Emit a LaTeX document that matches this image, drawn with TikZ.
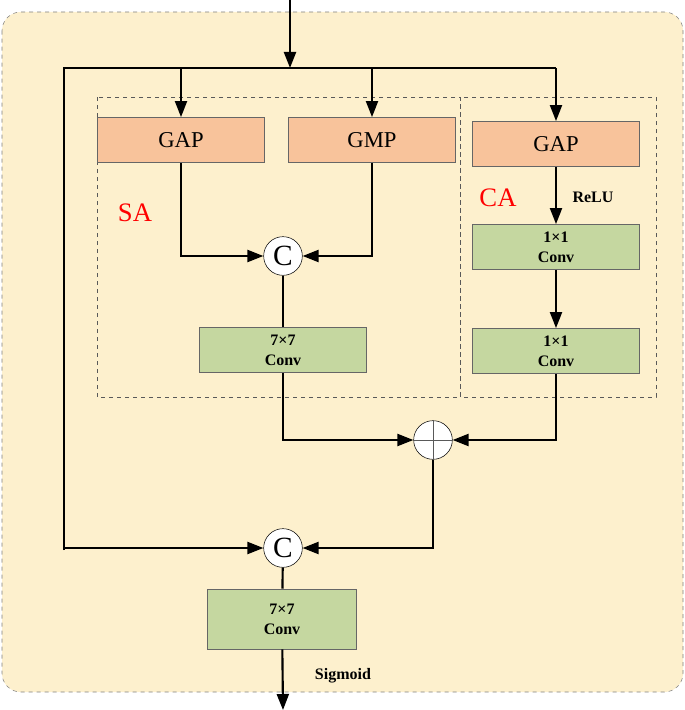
\documentclass[tikz,border=0pt]{standalone}
\usepackage{fontspec}
\setmainfont{Liberation Serif}
\usetikzlibrary{arrows.meta}
\definecolor{bg}{HTML}{FDF0CD}
\definecolor{org}{HTML}{F8C39B}
\definecolor{grn}{HTML}{C5D7A0}
\begin{document}
\begin{tikzpicture}[x=0.75pt,y=-0.75pt,
 ln/.style={line width=1.6pt},
 ar/.style={ln,-{Triangle[length=12pt,width=9pt]}},
 obox/.style={draw=gray!80!black,fill=org,minimum width=125pt,minimum height=34pt,font=\fontsize{17}{17}\selectfont},
 gbox/.style={draw=gray!80!black,fill=grn,minimum width=125pt,minimum height=34pt,font=\bfseries\fontsize{12}{15}\selectfont,align=center},
 circ/.style={circle,draw,fill=white,minimum size=29pt,inner sep=0pt},
 lbl/.style={text=red,font=\fontsize{20}{20}\selectfont}]
\useasboundingbox (0,0) rectangle (685,710);
\draw[dashed,gray,fill=bg,rounded corners=14pt] (2,12) rectangle (683,692);
\draw[dashed,gray!70!black] (97,97) rectangle (460,397);
\draw[dashed,gray!70!black] (460,97) rectangle (656,397);
\node[obox] (gap) at (181,140) {GAP};
\node[obox] (gmp) at (372,140) {GMP};
\node[obox] (gap2) at (556,144) {GAP};
\node[gbox] (c11) at (556,247) {1×1\\Conv};
\node[gbox] (c12) at (556,351) {1×1\\Conv};
\node[gbox] (c7) at (283,350) {7×7\\Conv};
\node[gbox,minimum width=112pt,minimum height=45pt] (c7b) at (282,619) {7×7\\Conv};
\node[circ,font=\fontsize{22}{22}\selectfont] (cc1) at (283,256) {C};
\node[circ,font=\fontsize{22}{22}\selectfont] (cc2) at (283,548) {C};
\node[circ] (plus) at (433,440) {};
\draw[gray!70!black,line width=0.5pt] (plus.west)--(plus.east) (plus.north)--(plus.south);
\node[lbl] at (135,213) {SA};
\node[lbl] at (498,198) {CA};
\node[font=\bfseries\fontsize{12}{12}\selectfont] at (593,197) {ReLU};
\node[font=\bfseries\fontsize{12}{12}\selectfont] at (343,676) {Sigmoid};
\coordinate (top) at (290,0);
\coordinate (bot) at (283,710);
\coordinate (L1) at (64,68);
\coordinate (R1) at (556,68);
\draw[ar] (top) -- (290,68);
\draw[ln] (64,550) -- (L1) -- (R1);
\draw[ar] (181,68) -- (gap.north);
\draw[ar] (372,68) -- (gmp.north);
\draw[ar] (R1) -- (gap2.north);
\draw[ar] (gap.south) |- (cc1.west);
\draw[ar] (gmp.south) |- (cc1.east);
\draw[ln] (cc1) -- (c7.north);
\draw[ar] (gap2) -- (c11);
\draw[ar] (c11) -- (c12);
\draw[ar] (c7.south) |- (plus.west);
\draw[ar] (c12.south) |- (plus.east);
\draw[ar] (plus.south) |- (cc2.east);
\draw[ar] (64,548) -- (cc2.west);
\draw[ln] (cc2) -- (c7b);
\draw[ar] (c7b) -- (bot);
\end{tikzpicture}
\end{document}
